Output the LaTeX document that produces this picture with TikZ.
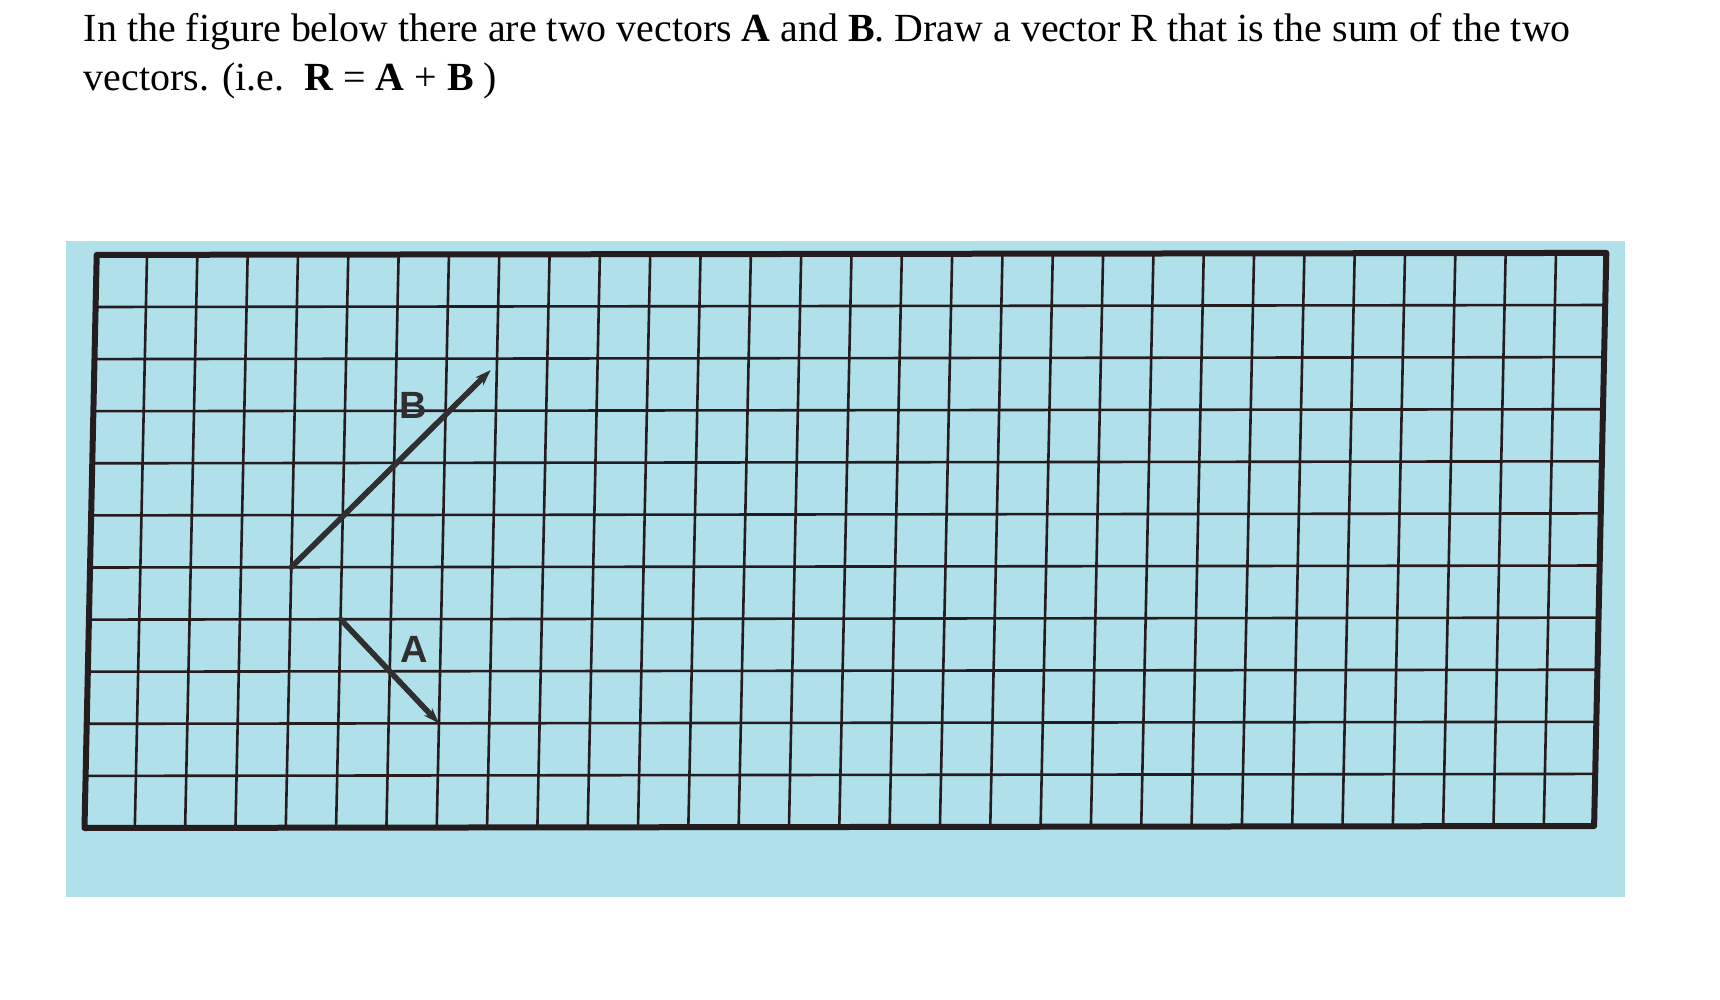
\documentclass[tikz,border=0pt]{standalone}
\usepackage{fontspec}
\setmainfont{Liberation Serif}
\newfontfamily\labelfont{Liberation Sans}
\usetikzlibrary{arrows.meta}
\definecolor{paper}{RGB}{176,225,235}
\definecolor{ink}{RGB}{38,28,30}
\definecolor{vecink}{RGB}{48,46,46}
\tikzset{
  gridline/.style={draw=ink, line width=1.3pt},
  frame/.style={draw=ink, line width=3pt, line join=round},
  vector/.style={draw=vecink, line width=2.8pt, line cap=round, -{Stealth[length=8pt,width=5.5pt]}},
  veclabel/.style={font=\labelfont\bfseries\fontsize{19}{22}\selectfont, text=vecink, inner sep=0pt},
  question/.style={anchor=base west, inner sep=0pt, font=\fontsize{19.95}{24}\selectfont}
}
\begin{document}
\begin{tikzpicture}[x=1pt,y=1pt]
\useasboundingbox (0,0) rectangle (860,-500);
\fill[white] (0,0) rectangle (860,-500);
\fill[paper] (32.9,-120.5) rectangle (812.3,-448.5);
\node[question] (line1) at (41.7,-20.9) {In the figure below there are two vectors \textbf{A} and \textbf{B}. Draw a vector R that is the sum of the two};
\node[question] (line2) at (41.7,-45.5) {vectors. (i.e.\ \ \textbf{R} = \textbf{A} + \textbf{B} )};
\begin{scope}[shift={(42.25,-414)}, x={(25.16pt,0.033pt)}, y={(0.555pt,26.05pt)}]
  \foreach \i in {1,...,29} \draw[gridline] (\i,0) -- (\i,11);
  \foreach \j in {1,...,10} \draw[gridline] (0,\j) -- (30,\j);
  \draw[frame] (0,0) -- (30,0) -- (30,11) -- (0,11) -- cycle;
  \coordinate (Bt) at (4,5);
  \coordinate (Bh) at (7.88,8.78);
  \coordinate (At) at (5,4);
  \coordinate (Ah) at (7,2);
  \draw[vector] (Bt) -- (Bh);
  \draw[vector] (At) -- (Ah);
  \node[veclabel] (Blab) at (6.35,8.1) {B};
  \node[veclabel] (Alab) at (6.48,3.41) {A};
\end{scope}
\end{tikzpicture}
\end{document}
